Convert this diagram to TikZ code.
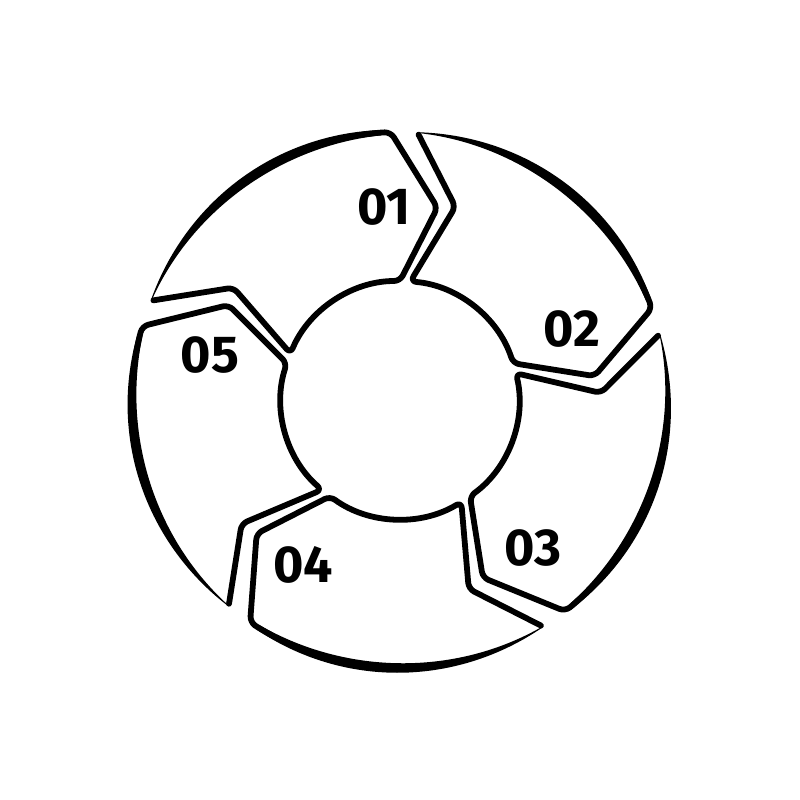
\documentclass[tikz,border=0pt]{standalone}
\usepackage{fontspec}
\setmainfont{Fira Sans}
\begin{document}
\begin{tikzpicture}[x=1pt,y=1pt,line join=round,line cap=round]
\tikzset{
  segline/.style={line width=5.8pt, rounded corners=6pt},
  lbl/.style={font=\fontsize{52}{52}\selectfont\bfseries, inner sep=0pt}
}
\useasboundingbox[fill=white] (-400,-400) rectangle (400,400);
\foreach \k in {0,...,4} {
  \pgfmathsetmacro{\o}{-72*\k}
  % segment outline: start notch, inner arc, end chevron
  \draw[segline] ({\o+158}:266) -- ({\o+146}:201) -- ({\o+157}:119)
    arc[start angle={\o+157}, end angle={\o+90}, radius=119]
    -- ({\o+79}:196) -- ({\o+92}:268)
    arc[start angle={\o+92}, end angle={\o+98}, radius=268];
  % brush-like outer arc
  \fill plot[domain=0:1, samples=50, smooth]
      ({\o+158-64*\x}:{268+0.5*(0.8+9*sin(150*\x))})
    -- plot[domain=0:1, samples=50, smooth]
      ({\o+94+64*\x}:{268-0.5*(0.8+9*sin(150*(1-\x)))}) -- cycle;
}
\node[lbl] (l1) at (-16,193) {01};
\node[lbl] (l2) at (172,71) {02};
\node[lbl] (l3) at (133,-148) {03};
\node[lbl] (l4) at (-97,-165) {04};
\node[lbl] (l5) at (-190,45) {05};
\end{tikzpicture}
\end{document}
